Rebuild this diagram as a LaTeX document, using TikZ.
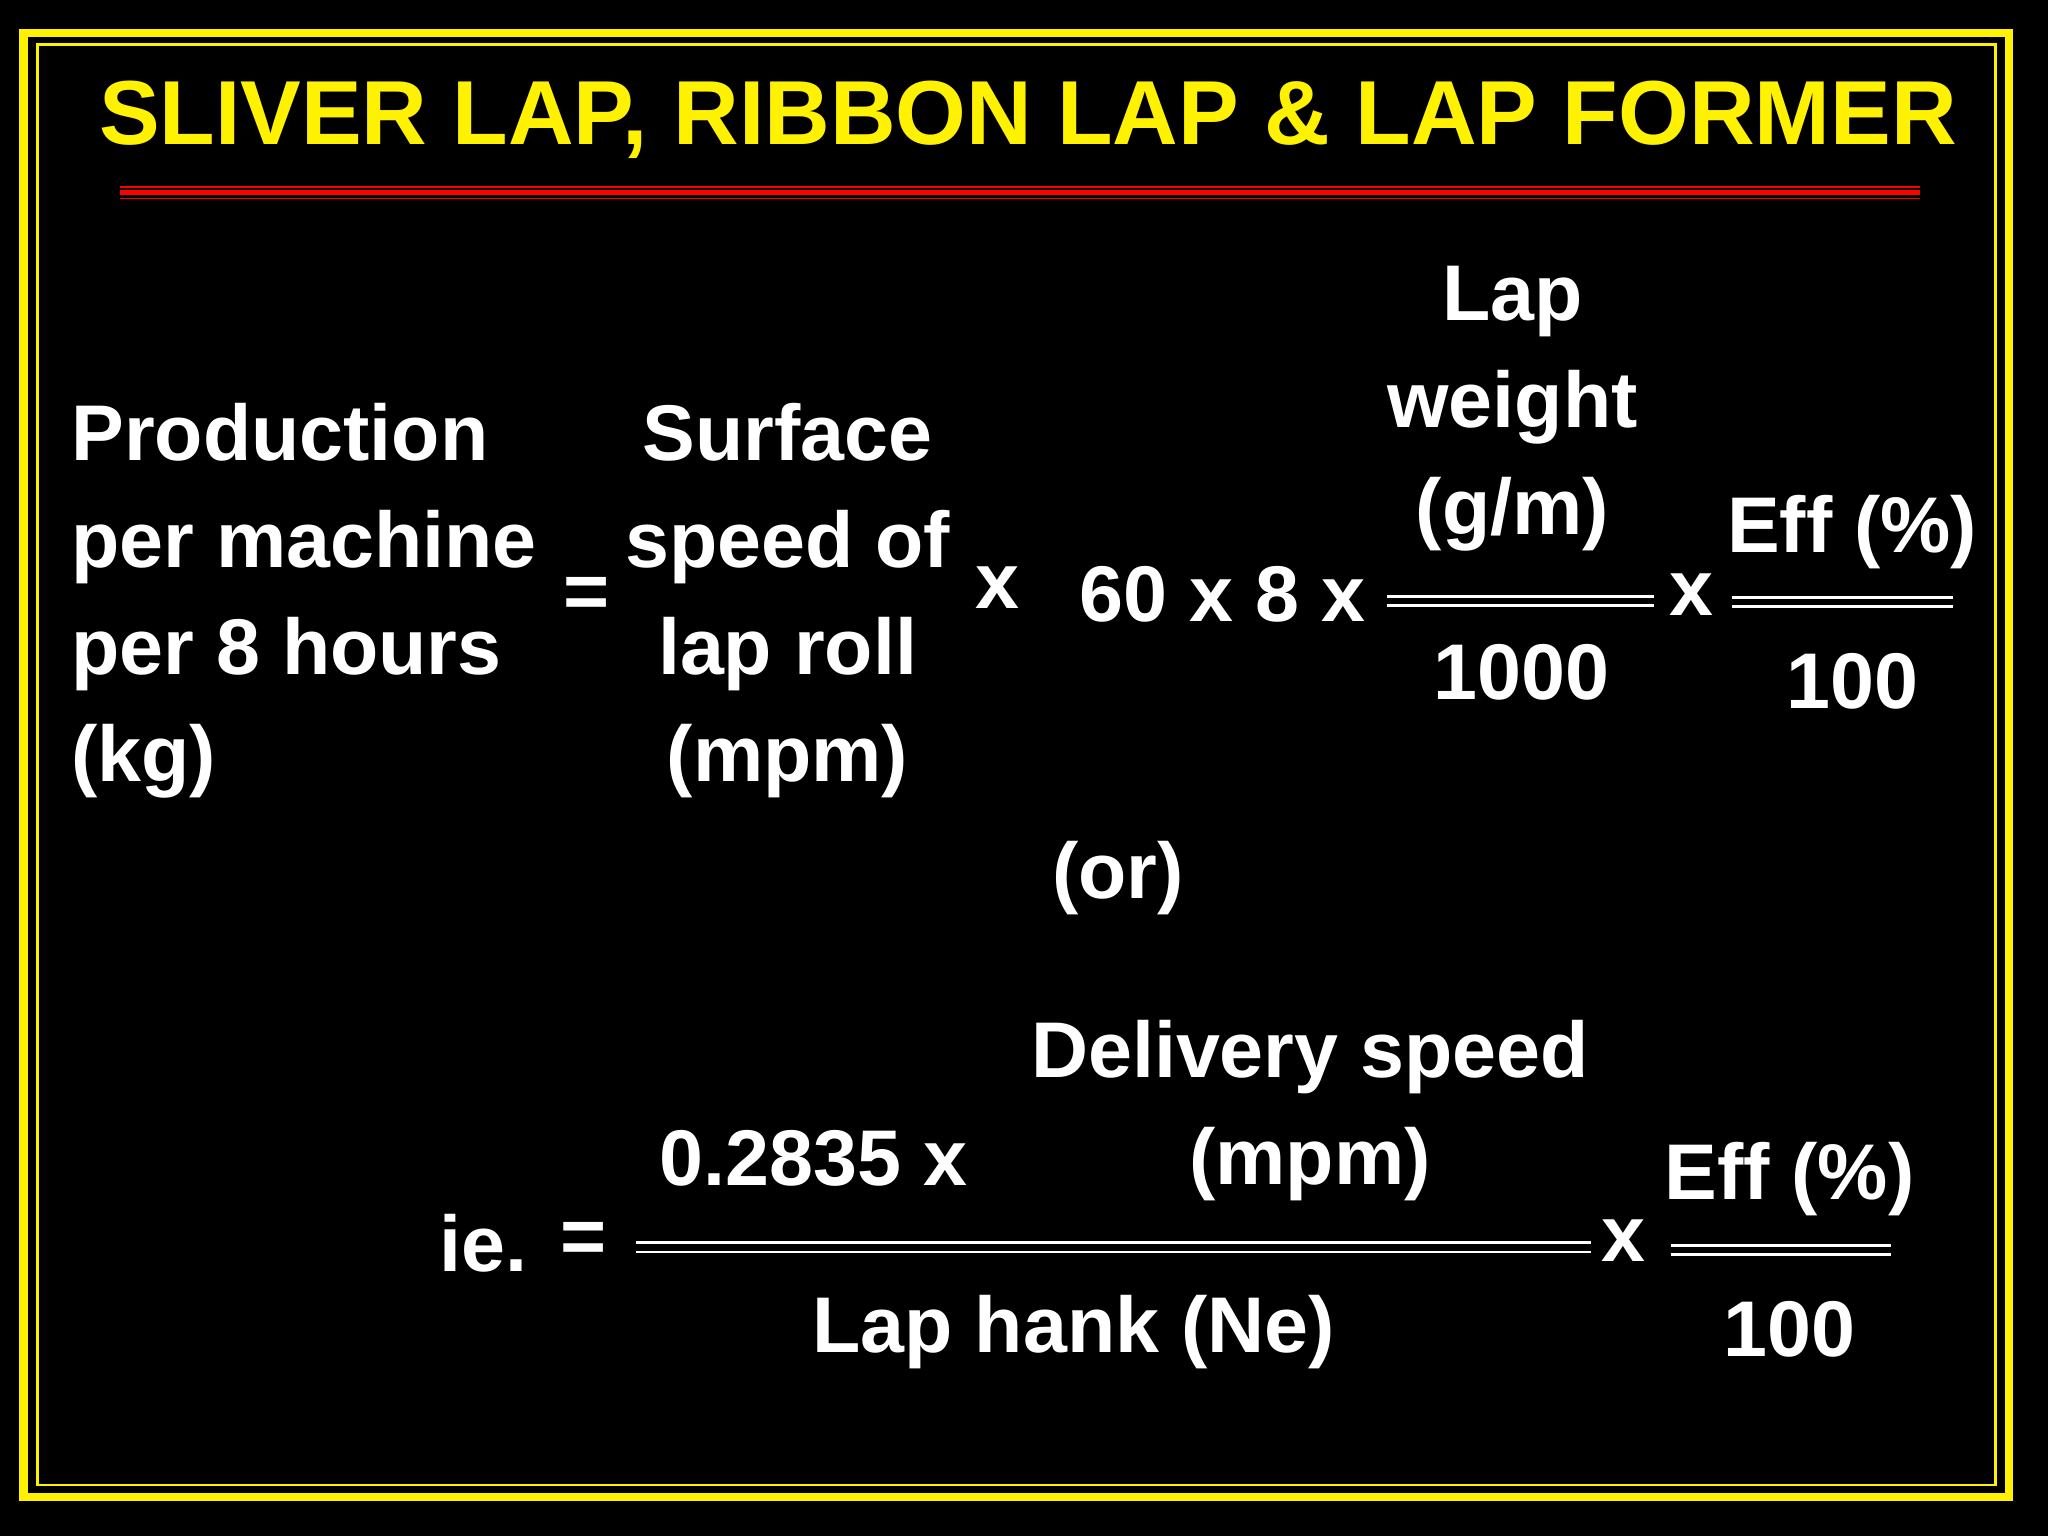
\documentclass[tikz,border=0pt]{standalone}
\usepackage{fontspec}
\setmainfont{Liberation Sans}
\begin{document}
\begin{tikzpicture}[x=0.01cm,y=-0.01cm,
  txt/.style={text=white,font=\fontsize{17.2}{23.3}\selectfont\bfseries,inner sep=0pt,align=center},
  frac/.style={draw=white,double=black,double distance=1.4pt,line width=0.6pt}]
\fill[black] (0,0) rectangle (1568,1176);
\useasboundingbox (0,0) rectangle (1568,1176);
\draw[yellow,line width=1.8pt] (18,25) rectangle (1538,1146);
\draw[yellow,line width=0.6pt] (29,34) rectangle (1528,1137);
\node[text=yellow,font=\fontsize{19.8}{24}\selectfont\bfseries,inner sep=0pt] (title) at (787,92) {SLIVER LAP, RIBBON LAP \& LAP FORMER};
\draw[red,line width=0.35pt] (92,143) -- (1470,143);
\draw[red,line width=1pt] (92,147.5) -- (1470,147.5);
\draw[red,line width=0.35pt] (92,152) -- (1470,152);
\node[txt,align=left,anchor=west] (prod) at (54,460) {Production\\per machine\\per 8 hours\\(kg)};
\node[txt] (eq1) at (449,458) {=};
\node[txt] (surf) at (603,460) {Surface\\speed of\\lap roll\\(mpm)};
\node[txt] (x1) at (764,450) {x};
\node[txt] (sixty) at (936,455) {60 x 8 x};
\node[txt] (lw) at (1158,313) {Lap\\weight\\(g/m)};
\coordinate (l1a) at (1062,460); \coordinate (l1b) at (1266,460);
\draw[frac] (l1a) -- (l1b);
\node[txt] (thou) at (1165,515) {1000};
\node[txt] (x2) at (1295,455) {x};
\node[txt] (eff1) at (1418,407) {Eff (\%)};
\coordinate (l2a) at (1326,461); \coordinate (l2b) at (1495,461);
\draw[frac] (l2a) -- (l2b);
\node[txt] (h1) at (1418,522) {100};
\node[txt] (or) at (856,672) {(or)};
\node[txt] (ie) at (370,952) {ie.};
\node[txt] (eq2) at (447,952) {=};
\node[txt] (c) at (623,887) {0.2835 x};
\node[txt] (del) at (1003,850) {Delivery speed\\(mpm)};
\coordinate (l3a) at (487,955); \coordinate (l3b) at (1218,955);
\draw[frac] (l3a) -- (l3b);
\node[txt] (hank) at (822,1020) {Lap hank (Ne)};
\node[txt] (x3) at (1243,950) {x};
\node[txt] (eff2) at (1370,903) {Eff (\%)};
\coordinate (l4a) at (1279,957); \coordinate (l4b) at (1448,957);
\draw[frac] (l4a) -- (l4b);
\node[txt] (h2) at (1370,1018) {100};
\end{tikzpicture}
\end{document}
